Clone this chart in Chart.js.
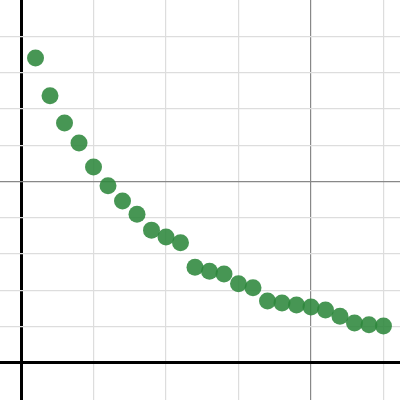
<!DOCTYPE html><html><head><script src="https://cdn.jsdelivr.net/npm/chart.js@4"></script>
<style>html,body{margin:0;padding:0;background:#fff}#w{width:400px;height:400px}</style></head><body><div id="w"><canvas id="c"></canvas></div>
<script>
const xValues=[1,2,3,4,5,6,7,8,9,10,11,12,13,14,15,16,17,18,19,20,21,22,23,24,25];
const yValues=[8.40,7.36,6.61,6.06,5.40,4.88,4.46,4.10,3.66,3.47,3.31,2.64,2.53,2.45,2.18,2.07,1.71,1.65,1.60,1.54,1.46,1.29,1.10,1.05,1.02];
const xTicks=[0,5,10,15,20,25];
const yTicks=[0,1,2,3,4,5,6,7,8,9];
function gc(major){return c=>{const v=c.tick&&c.tick.value;if(v===0)return '#000';if(v===major)return '#888';return '#ddd';};}
function gw(c){return (c.tick&&c.tick.value===0)?3:1.2;}
new Chart(document.getElementById('c'),{type:'scatter',
data:{datasets:[{data:xValues.map((x,i)=>({x,y:yValues[i]})),backgroundColor:'rgba(45,135,60,0.88)',borderWidth:0,pointRadius:8.5,pointHoverRadius:8.5,clip:false}]},
options:{responsive:true,maintainAspectRatio:false,animation:false,layout:{padding:0,autoPadding:false},
plugins:{legend:{display:false},tooltip:{enabled:false}},
scales:{
x:{type:'linear',min:-1.45,max:26.14,afterBuildTicks:a=>{a.ticks=xTicks.map(v=>({value:v}));},ticks:{display:false,padding:0},border:{display:false},grid:{color:gc(20),lineWidth:gw,drawTicks:false,tickLength:0}},
y:{type:'linear',min:-1.02,max:10.0,afterBuildTicks:a=>{a.ticks=yTicks.map(v=>({value:v}));},ticks:{display:false,padding:0},border:{display:false},grid:{color:gc(5),lineWidth:gw,drawTicks:false,tickLength:0}}
}}});
</script></body></html>
